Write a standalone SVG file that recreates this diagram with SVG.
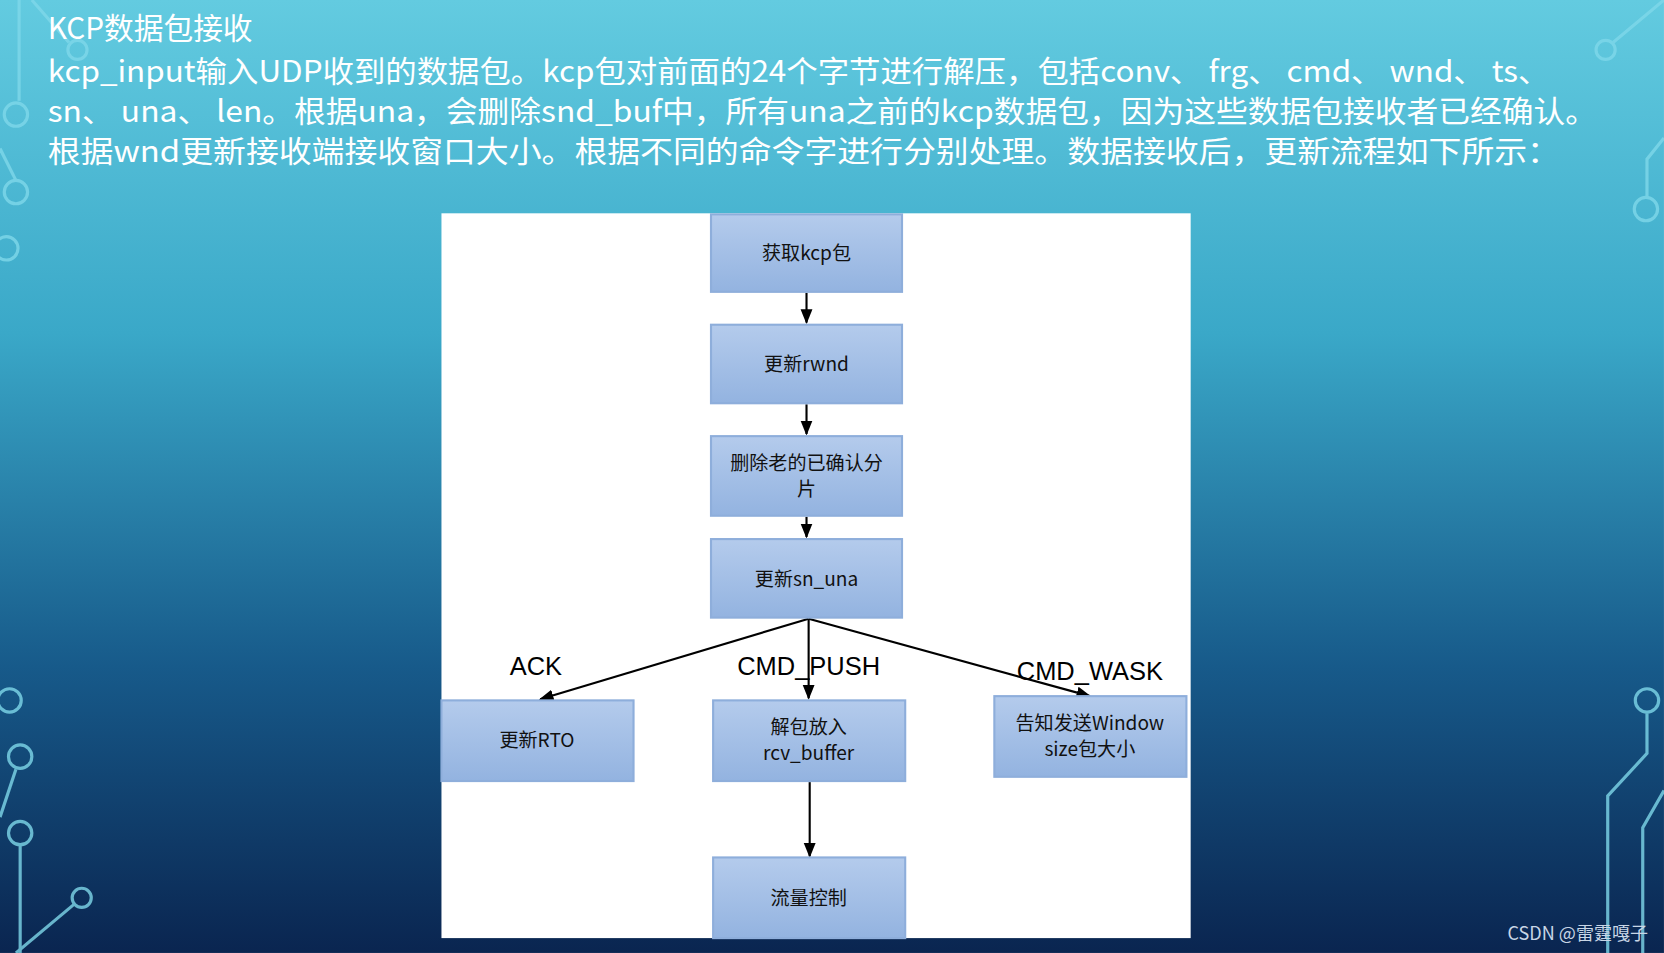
<svg xmlns="http://www.w3.org/2000/svg" width="1664" height="953" viewBox="0 0 1664 953">
<defs>
<linearGradient id="bg" x1="0" y1="0" x2="0" y2="1">
<stop offset="0" stop-color="#63cbe0"/><stop offset="0.35" stop-color="#3aa8c8"/><stop offset="0.7" stop-color="#175a8a"/><stop offset="1" stop-color="#0a2550"/>
</linearGradient>
<linearGradient id="nd" x1="0" y1="0" x2="0" y2="1">
<stop offset="0" stop-color="#b4cbec"/><stop offset="1" stop-color="#93b3e0"/>
</linearGradient>
<marker id="ar" viewBox="0 0 10 10" refX="9" refY="5" markerWidth="7" markerHeight="7" orient="auto"><path d="M0,1 L10,5 L0,9 z" fill="#000"/></marker>
<style>
.t{fill:#fff;font-family:"Noto Sans CJK SC","Liberation Sans",sans-serif;font-size:28px}
.n rect{fill:url(#nd);stroke:#8eaedb;stroke-width:2}
.n text{font-family:"Noto Sans CJK SC","Liberation Sans",sans-serif;font-size:18px;fill:#111;text-anchor:middle}
.c line{stroke:#000;stroke-width:2;marker-end:url(#ar)}
.l{font-family:"Liberation Sans",sans-serif;font-size:24px;fill:#000;text-anchor:middle}
.d{stroke:#7fd8ea;stroke-width:3;fill:none;opacity:0.8}
</style>
</defs>
<g transform="scale(1.0612)">
<rect width="1568" height="898" fill="url(#bg)"/>
<g class="d">
<path d="M18,0 V95"/><circle cx="15" cy="108" r="11"/><path d="M0,140 L15,170"/><circle cx="15" cy="181" r="11"/><circle cx="6" cy="234" r="11"/>
<path d="M30,0 L65,40"/><circle cx="73" cy="47" r="9"/>
<circle cx="9" cy="660" r="11"/><circle cx="19" cy="713" r="11"/><path d="M15,725 L0,770"/><circle cx="19" cy="785" r="11"/><path d="M19,797 V898"/><path d="M15,898 L70,852"/><circle cx="77" cy="846" r="9"/>
<path d="M1568,0 L1520,40"/><circle cx="1513" cy="47" r="9"/><path d="M1568,130 L1552,150 V185"/><circle cx="1551" cy="197" r="11"/>
<circle cx="1552" cy="660" r="11"/><path d="M1552,672 V710 L1515,750 V898"/><path d="M1568,745 L1548,780 V898"/>
</g>
<text class="t" x="45" y="37">KCP数据包接收</text>
<text class="t" x="45" y="77" textLength="1415" lengthAdjust="spacingAndGlyphs">kcp_input输入UDP收到的数据包。kcp包对前面的24个字节进行解压，包括conv、 frg、 cmd、 wnd、 ts、</text>
<text class="t" x="45" y="115" textLength="1460" lengthAdjust="spacingAndGlyphs">sn、 una、 len。根据una，会删除snd_buf中，所有una之前的kcp数据包，因为这些数据包接收者已经确认。</text>
<text class="t" x="45" y="153" textLength="1425" lengthAdjust="spacingAndGlyphs">根据wnd更新接收端接收窗口大小。根据不同的命令字进行分别处理。数据接收后，更新流程如下所示：</text>
<rect x="416" y="201" width="706" height="683" fill="#fff"/>
<g class="c">
<line x1="760" y1="276" x2="760" y2="304"/>
<line x1="760" y1="381" x2="760" y2="409"/>
<line x1="760" y1="487" x2="760" y2="506"/>
<line x1="762" y1="583" x2="509" y2="659"/>
<line x1="762" y1="583" x2="762" y2="658"/>
<line x1="762" y1="583" x2="1027" y2="656"/>
<line x1="763" y1="737" x2="763" y2="807"/>
</g>
<g id="n1" class="n"><rect x="670" y="202" width="180" height="73"/><text x="760" y="245">获取kcp包</text></g>
<g id="n2" class="n"><rect x="670" y="306" width="180" height="74"/><text x="760" y="350">更新rwnd</text></g>
<g id="n3" class="n"><rect x="670" y="411" width="180" height="75"/><text x="760" y="443">删除老的已确认分</text><text x="760" y="467">片</text></g>
<g id="n4" class="n"><rect x="670" y="508" width="180" height="74"/><text x="760" y="552">更新sn_una</text></g>
<g id="n5" class="n"><rect x="416" y="660" width="181" height="76"/><text x="506" y="704">更新RTO</text></g>
<g id="n6" class="n"><rect x="672" y="660" width="181" height="76"/><text x="762" y="692">解包放入</text><text x="762" y="716">rcv_buffer</text></g>
<g id="n7" class="n"><rect x="937" y="656" width="181" height="76"/><text x="1027" y="688">告知发送Window</text><text x="1027" y="712">size包大小</text></g>
<g id="n8" class="n"><rect x="672" y="808" width="181" height="76"/><text x="762" y="853">流量控制</text></g>
<text class="l" x="505" y="636">ACK</text>
<text class="l" x="762" y="636">CMD_PUSH</text>
<text class="l" x="1027" y="641">CMD_WASK</text>
<text x="1553" y="886" text-anchor="end" font-family="Noto Sans CJK SC,Liberation Sans,sans-serif" font-size="17" fill="#c8d6e6">CSDN @雷霆嘎子</text>
</g>
</svg>
